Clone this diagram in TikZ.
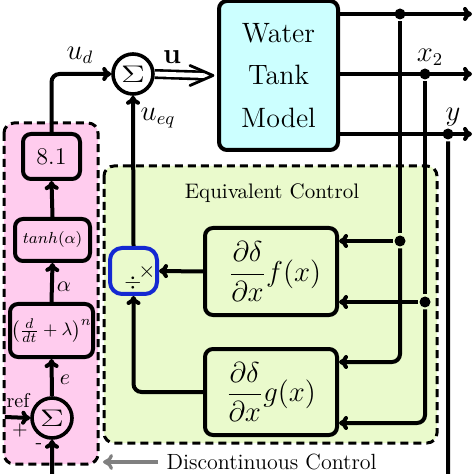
\documentclass[tikz,border=0pt]{standalone}
\usepackage{amsmath}
\usepackage{graphicx}
\usetikzlibrary{arrows.meta}
\definecolor{pinkbg}{RGB}{255,204,238}
\definecolor{greenbg}{RGB}{234,250,204}
\definecolor{cyanbg}{RGB}{204,255,255}
\definecolor{divblue}{RGB}{20,40,210}
\newcommand{\bigsig}{\scalebox{1.4}[1]{$\Sigma$}}
\begin{document}
\begin{tikzpicture}[x=0.5pt,y=-0.5pt,
  line width=2pt,
  blk/.style={draw, rounded corners=4pt, line width=2pt, inner sep=0pt, align=center},
  sumc/.style={draw, circle, line width=1.8pt, inner sep=0pt, font=\fontsize{11.5}{12}\selectfont},
  arr/.style={-{To[length=4.5pt,width=7pt]}, line width=2pt, rounded corners=4pt},
  plain/.style={line width=2pt, rounded corners=4pt},
  dot/.style={circle, fill, inner sep=0pt, minimum size=5.5pt},
  lbl/.style={font=\fontsize{13.5}{15}\selectfont, inner sep=0pt},
  slbl/.style={font=\fontsize{11}{13}\selectfont, inner sep=0pt},
  region/.style={dash pattern=on 4pt off 2.5pt, line width=1.5pt, rounded corners=5pt}
]
\useasboundingbox (0,0) rectangle (474,474);
% regions
\draw[region, fill=pinkbg] (4,123) rectangle (98,464);
\draw[region, fill=greenbg] (104,166) rectangle (437,443);
\node[font=\fontsize{10.5}{12}\selectfont] (eqt) at (272,193) {Equivalent Control};
\node[font=\fontsize{11}{13}\selectfont, anchor=west] (dct) at (158,462) {Discontinuous Control};
\draw[gray, line width=1.6pt, -{To[length=5pt,width=8pt]}] (dct.west) -- (103,462);

% blocks
\node[blk, fill=cyanbg, minimum width=59.5pt, minimum height=74.5pt, font=\fontsize{14}{21.25}\selectfont] (tank) at (278.5,75.5) {Water\\Tank\\Model};
\node[sumc, minimum size=20pt] (sum1) at (133,74) {\bigsig};
\node[blk, fill=pinkbg, minimum width=28.5pt, minimum height=22.5pt, font=\fontsize{12}{14}\selectfont] (b81) at (51.5,156.5) {8.1};
\node[blk, fill=pinkbg, minimum width=37.5pt, minimum height=21pt, font=\fontsize{8.5}{10}\selectfont] (tanh) at (52.5,240) {$tanh(\alpha)$};
\node[blk, fill=pinkbg, minimum width=41.5pt, minimum height=26.5pt, font=\fontsize{9.5}{11}\selectfont] (dl) at (51.5,330.5) {$\bigl(\frac{d}{dt}+\lambda\bigr)^{n}$};
\node[sumc, minimum size=20pt] (sum2) at (52,418) {\bigsig};
\node[blk, fill=greenbg, minimum width=66pt, minimum height=43.5pt, font=\fontsize{14.5}{17}\selectfont] (f) at (271,271.5) {\hspace*{4pt}$\dfrac{\partial\delta}{\partial x}f(x)$};
\node[blk, fill=greenbg, minimum width=66pt, minimum height=43pt, font=\fontsize{14.5}{17}\selectfont] (g) at (271,392) {$\dfrac{\partial\delta}{\partial x}g(x)$};
\node[blk, draw=divblue, rounded corners=6pt, fill=greenbg, minimum width=23.5pt, minimum height=23pt] (div) at (133.5,271) {};
\node[font=\fontsize{10.5}{12}\selectfont, inner sep=0pt] (divop) at (133,283) {$\div$};
\node[font=\fontsize{10.5}{12}\selectfont, inner sep=0pt] (mulop) at (147,272) {$\times$};

% dots
\node[dot] (d1) at (400,14) {};
\node[dot] (d2) at (425,74) {};
\node[dot] (d3) at (448,134) {};
\node[dot] (d1f) at (400,241) {};
\node[dot] (d2f) at (425,302) {};
\coordinate (o1) at (472,14);
\coordinate (o2) at (472,74);
\coordinate (o3) at (472,134);
\coordinate (refin) at (5,417);

% output lines
\draw[arr] (tank.east |- o1) -- (o1);
\draw[arr] (tank.east |- o2) -- (o2);
\draw[arr] (tank.east |- o3) -- (o3);
\node[lbl] (x1l) at (405,-11) {$x_1$};
\node[lbl] (x2l) at (430,57) {$x_2$};
\node[lbl] (yl) at (453,117) {$y$};

% feedback to f and g
\draw[plain] (d1) -- (d1f);
\draw[arr] (d1f) -- (f.east |- d1f);
\draw[arr] (d1f) -- (400,362) -- (g.east |- 0,362);
\draw[plain] (d2) -- (d2f);
\draw[arr] (d2f) -- (f.east |- d2f);
\draw[arr] (d2f) -- (425,423) -- (g.east |- 0,423);
\draw[arr] (d3) -- (448,500) -| (sum2.south);

% equivalent control
\draw[arr] (f.west) -- (div.east);
\draw[arr] (g.west) -| (div.south);
\draw[arr] (div.north) -- (sum1.south);
\node[lbl] (ueql) at (158,118) {$u_{eq}$};

% discontinuous chain
\draw[arr] (refin) -- (sum2.west);
\node[font=\fontsize{10}{12}\selectfont, inner sep=0pt] (refl) at (18,401) {ref};
\node[font=\fontsize{10}{12}\selectfont, inner sep=0pt] (plusl) at (20,430) {$+$};
\node[font=\fontsize{10}{12}\selectfont, inner sep=0pt] (minl) at (39,446) {-};
\draw[arr] (sum2.north) -- (dl.south);
\node[slbl] (el) at (65,380) {$e$};
\draw[arr] (dl.north) -- (tanh.south);
\node[slbl] (al) at (64,287) {$\alpha$};
\draw[arr] (tanh.north) -- (b81.south);
\draw[arr] (b81.north) |- (sum1.west);
\node[lbl] (udl) at (80,55) {$u_d$};

% control to plant (double arrow with open chevron head)
\coordinate (utip) at ([xshift=-2pt]tank.west);
\draw[double, line width=1.3pt, double distance=2.4pt] (sum1.east) -- ([xshift=-5pt]utip);
\draw[line width=1.4pt, line join=round, line cap=round] (utip) ++(-23,-10) -- (utip) -- ++(-23,10);
\node[lbl] (ul) at (172,57) {$\mathbf{u}$};
\end{tikzpicture}
\end{document}
